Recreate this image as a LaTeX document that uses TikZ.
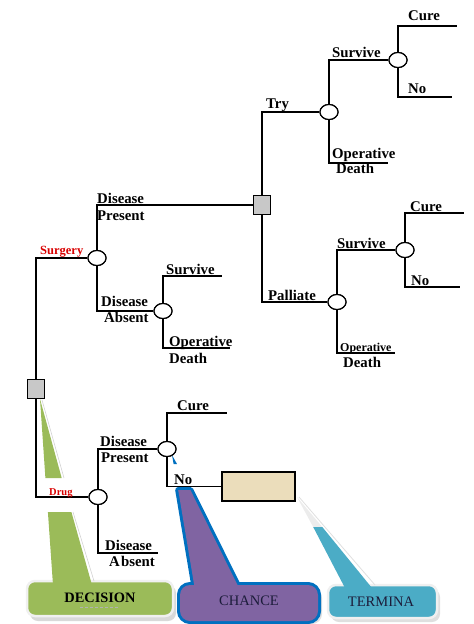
\documentclass[tikz,border=0pt]{standalone}
\usepackage{fontspec}
\setmainfont{Liberation Serif}
\usetikzlibrary{shapes.geometric}
\definecolor{decgreen}{HTML}{9BBB59}
\definecolor{chpurple}{HTML}{8064A2}
\definecolor{chblue}{HTML}{0070C0}
\definecolor{terteal}{HTML}{4BACC6}
\definecolor{termfill}{HTML}{EBDDBB}
\definecolor{navytext}{HTML}{1C1C3A}
\definecolor{sqgray}{HTML}{C8C8C8}
\begin{document}
\begin{tikzpicture}[x=1pt,y=-1pt,
  br/.style={line width=1.7pt,black},
  chc/.style={ellipse,draw=black,line width=1.2pt,fill=white,minimum width=18pt,minimum height=15pt,inner sep=0pt},
  dsq/.style={rectangle,draw=black,line width=1.2pt,fill=sqgray,minimum width=17pt,minimum height=19pt,inner sep=0pt},
  termbox/.style={rectangle,draw=black,line width=1.3pt,fill=termfill,minimum width=73pt,minimum height=29pt,inner sep=0pt},
  lbl/.style={anchor=base west,inner sep=0pt,font=\bfseries\fontsize{14.8}{15}\selectfont},
  redlbl/.style={anchor=base west,inner sep=0pt,text=red!85!black,font=\bfseries\fontsize{12.5}{13}\selectfont},
  callout/.style={inner sep=0pt,font=\fontsize{14.5}{15}\selectfont}]
\useasboundingbox (0,0) rectangle (474,624);

% ---------- callouts ----------
% decision
\fill[gray!30,rounded corners=8] (30,585) rectangle (176,621);
\draw[gray!12,line width=2.5pt,fill=decgreen,rounded corners=8] (27,581) rectangle (173,616);
\fill[decgreen] (40,399) -- (45.4,478) -- (61.7,478) -- cycle;
\fill[decgreen] (47.9,512) -- (53,585) -- (92,585) -- (71.4,512) -- cycle;
\draw[gray!35,line width=0.6pt] (42,400) -- (64,478);
\draw[gray!35,line width=0.6pt] (73,512) -- (94,581);
\node[callout,font=\bfseries\fontsize{14.4}{15}\selectfont] (dec) at (100,598) {DECISION};
\draw[gray!60,line width=0.5pt,dash pattern=on 3pt off 2pt] (80,607) -- (120,607);

% chance
\fill[gray!25,rounded corners=10] (182,588) rectangle (322,624);
\path[draw=chblue,line width=6pt,rounded corners=10] (180,585) rectangle (318,621);
\path[draw=chblue,line width=6pt,line join=round] (178.2,490) -- (195,590) -- (240,590) -- (190.4,490) -- cycle;
\fill[chpurple,rounded corners=10] (180,585) rectangle (318,621);
\fill[chpurple] (178.2,490) -- (195,590) -- (240,590) -- (190.4,490) -- cycle;
\fill[chblue] (172,455) -- (173.6,464) -- (177,464) -- cycle;
\node[callout,text=navytext] (cha) at (249,601) {CHANCE};

% terminal
\fill[gray!25,rounded corners=8] (331,589) rectangle (440,622);
\draw[gray!12,line width=2.5pt,fill=terteal,rounded corners=8] (328,585) rectangle (437,618);
\fill[gray!15] (297,497) -- (313.2,527) -- (322.3,527) -- cycle;
\draw[gray!25,line width=0.8pt] (299,497) -- (375,585);
\fill[terteal] (313.2,527) -- (345,588) -- (372,588) -- (322.3,527) -- cycle;
\node[callout,text=navytext] (ter) at (381,602) {TERMINA};

% ---------- tree ----------
\node[dsq] (sq1) at (36,389) {};
\node[chc] (cS) at (97,258) {};
\node[dsq] (sq2) at (262,205) {};
\node[chc] (cA) at (163,311) {};
\node[chc] (cT) at (329,112) {};
\node[chc] (cTS) at (398,60) {};
\node[chc] (cP) at (337,302) {};
\node[chc] (cPS) at (405,250) {};
\node[chc] (cD) at (98,497) {};
\node[chc] (cDP) at (167,449) {};
\node[termbox] (term) at (258.5,486.5) {};

\coordinate (eAS) at (222,276);
\coordinate (eAD) at (230,348);
\coordinate (eTC) at (457,26);
\coordinate (eTN) at (452,97);
\coordinate (eTD) at (388,163);
\coordinate (ePC) at (464,213);
\coordinate (ePN) at (460,287);
\coordinate (ePD) at (395,353);
\coordinate (eDC) at (227,413);
\coordinate (eDA) at (158,553);

\draw[br] (sq1.north) |- (cS.west);
\draw[br] (cS.north) |- (sq2.west);
\draw[br] (cS.south) |- (cA.west);
\draw[br] (cA.north) |- (eAS);
\draw[br] (cA.south) |- (eAD);
\draw[br] (sq2.north) |- (cT.west);
\draw[br] (cT.north) |- (cTS.west);
\draw[br] (cTS.north) |- (eTC);
\draw[br] (cTS.south) |- (eTN);
\draw[br] (cT.south) |- (eTD);
\draw[br] (sq2.south) |- (cP.west);
\draw[br] (cP.north) |- (cPS.west);
\draw[br] (cPS.north) |- (ePC);
\draw[br] (cPS.south) |- (ePN);
\draw[br] (cP.south) |- (ePD);
\draw[br] (sq1.south) |- (cD.west);
\draw[br] (cD.north) |- (cDP.west);
\draw[br] (cDP.north) |- (eDC);
\draw[br] (cDP.south) |- (term.west);
\draw[br] (cD.south) |- (eDA);

% redraw nodes on top of lines
\foreach \n in {cS,cA,cT,cTS,cP,cPS,cD,cDP}{\node[chc] at (\n) {};}
\node[dsq] at (sq1) {};
\node[dsq] at (sq2) {};

% ---------- labels ----------
\node[lbl] (l1) at (97,203) {Disease};
\node[lbl] (l2) at (97,220) {Present};
\node[redlbl] (l3) at (40,254.5) {Surgery};
\node[lbl] (l4) at (101,306) {Disease};
\node[lbl] (l5) at (104,322) {Absent};
\node[lbl] (l6) at (166,274) {Survive};
\node[lbl] (l7) at (169,346) {Operative};
\node[lbl] (l8) at (169,363) {Death};
\node[lbl] (l9) at (266,108) {Try};
\node[lbl] (l10) at (332,57) {Survive};
\node[lbl] (l11) at (408,20) {Cure};
\node[lbl] (l12) at (408,93) {No};
\node[lbl] (l13) at (332,158) {Operative};
\node[lbl] (l14) at (336,173) {Death};
\node[lbl] (l15) at (268,300) {Palliate};
\node[lbl] (l16) at (337,248) {Survive};
\node[lbl] (l17) at (410,211) {Cure};
\node[lbl] (l18) at (411,285) {No};
\node[lbl,font=\bfseries\fontsize{12}{13}\selectfont] (l19) at (340,351) {Operative};
\node[lbl] (l20) at (343,367) {Death};
\node[lbl] (l21) at (177,410) {Cure};
\node[lbl] (l22) at (100,446) {Disease};
\node[lbl] (l23) at (101,462) {Present};
\node[redlbl,font=\bfseries\fontsize{10.5}{11}\selectfont] (l24) at (49,495) {Drug};
\node[lbl] (l25) at (174,484) {No};
\node[lbl] (l26) at (105,550) {Disease};
\node[lbl] (l27) at (109,566) {A\kern1.2pt bsent};
\end{tikzpicture}
\end{document}
